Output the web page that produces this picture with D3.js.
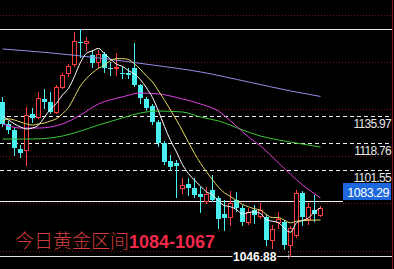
<!DOCTYPE html>
<html>
<head>
<meta charset="utf-8">
<script src="https://cdnjs.cloudflare.com/ajax/libs/d3/7.8.5/d3.min.js"></script>
<style>
body { margin: 0; background: #000; overflow: hidden; }
svg { display: block; }
</style>
</head>
<body>
<div class="graph"></div>
<script>
// daily candles
var opens  = [1144.6,1130.6,1126.7,1114.7,1114.0,1136.9,1135.0,1146.5,1144.6,1138.2,
              1154.1,1163.0,1168.7,1182.7,1182.1,1174.5,1170.0,1175.1,1166.2,1166.2,
              1163.0,1163.0,1166.2,1155.4,1146.5,1142.0,1131.8,1118.5,1107.0,1105.7,
              1089.8,1092.4,1089.8,1086.0,1081.6,1088.6,1083.5,1073.3,1071.4,1082.2,
              1077.1,1068.2,1075.8,1072.0,1071.4,1056.8,1068.2,1068.2,1053.6,1059.9,
              1086.7,1070.1,1075.8,1072.7];
var highs  = [1147.7,1132.5,1128.0,1117.2,1141.4,1140.7,1150.9,1152.8,1150.9,1155.4,
              1163.0,1168.7,1189.1,1191.0,1185.9,1177.7,1177.7,1176.4,1170.0,1175.7,
              1166.8,1166.2,1182.1,1156.0,1147.7,1143.3,1133.1,1119.7,1110.8,1107.7,
              1096.2,1096.2,1096.2,1090.5,1090.5,1098.1,1084.8,1082.2,1087.9,1087.3,
              1079.0,1077.1,1079.0,1080.3,1073.3,1066.3,1074.6,1069.5,1065.7,1088.6,
              1087.9,1080.3,1085.4,1078.4];
var lows   = [1129.3,1124.8,1110.8,1109.6,1104.5,1131.8,1134.4,1140.7,1137.6,1137.6,
              1153.5,1161.1,1167.5,1173.2,1177.7,1166.8,1166.8,1163.7,1161.7,1161.7,
              1159.8,1159.8,1154.7,1143.9,1139.5,1130.6,1116.6,1105.1,1101.3,1084.1,
              1086.7,1085.4,1084.1,1074.6,1080.3,1081.6,1064.4,1063.1,1066.3,1075.2,
              1066.3,1066.9,1067.6,1070.8,1053.6,1051.7,1064.4,1051.0,1046.88,1058.7,
              1066.3,1066.9,1068.8,1072.0];
var closes = [1130.6,1126.7,1115.3,1112.1,1136.3,1134.4,1147.1,1144.6,1138.2,1154.1,
              1161.7,1167.5,1183.4,1182.1,1183.4,1169.4,1175.1,1166.2,1165.6,1166.8,
              1162.4,1161.7,1155.4,1147.1,1140.7,1131.8,1118.5,1106.4,1103.2,1103.8,
              1091.7,1089.8,1085.4,1084.1,1086.0,1082.2,1070.1,1070.8,1080.3,1077.1,
              1068.2,1074.6,1072.7,1075.8,1056.8,1063.8,1070.1,1053.6,1064.4,1086.7,
              1071.4,1077.7,1073.3,1077.1];

// moving averages
var ma5  = [1135.7,1133.1,1130.6,1128.7,1127.4,1128.0,1129.9,1134.9,1140.1,1143.7,
            1149.1,1153.2,1161.0,1169.8,1175.6,1177.1,1178.7,1175.2,1171.9,1168.6,
            1167.2,1164.5,1162.4,1158.7,1153.5,1147.4,1138.7,1128.9,1120.1,1112.8,
            1104.7,1099.0,1094.8,1091.0,1087.4,1085.5,1081.6,1078.6,1077.9,1076.1,
            1073.3,1074.2,1074.6,1073.7,1069.6,1068.7,1067.8,1064.0,1061.7,1067.7,
            1069.2,1070.8,1074.7,1077.2];
var ma10 = [1132.5,1133.8,1133.1,1131.8,1130.6,1129.9,1130.6,1131.2,1132.5,1133.9,
            1137.1,1141.1,1147.9,1154.9,1159.6,1163.2,1166.0,1168.1,1170.9,1172.1,
            1172.2,1171.6,1168.8,1165.3,1161.1,1157.3,1151.6,1145.7,1139.4,1133.1,
            1126.1,1118.9,1111.9,1105.6,1100.1,1095.1,1090.3,1086.7,1084.4,1081.8,
            1079.4,1077.9,1076.6,1075.8,1072.9,1071.0,1071.0,1069.3,1067.7,1068.7,
            1069.0,1069.3,1069.4,1069.5];
var ma20At = [0, 3, 6, 10, 13, 16, 20, 23, 26, 30, 33, 36, 38, 41, 43, 46, 50, 53];
var ma20   = [1130.6,1128.0,1128.0,1130.6,1136.3,1143.3,1147.8,1150.3,1149.7,1146.5,
              1143.3,1138.8,1132.5,1122.3,1116.6,1105.8,1091.8,1083.5];
var ma60At = [0, 5, 10, 13, 16, 20, 23, 26, 30, 33, 36, 40, 43, 46, 50, 53];
var ma60   = [1121.0,1121.0,1122.9,1126.1,1129.9,1134.4,1137.6,1138.8,1138.2,1135.0,
              1132.5,1126.8,1122.9,1120.4,1117.8,1115.9];
var ma120At = [0, 8, 16, 25, 33, 41, 48, 53];
var ma120   = [1178.3,1175.8,1172.6,1168.1,1163.7,1157.3,1151.6,1148.1];

var levels = [1135.97, 1118.76, 1101.55];
var gridPrices = [1200, 1170, 1140, 1110, 1080, 1050];
var highPrice = 1191.0, lowPrice = 1046.88, lastPrice = 1081.8;
var lastLabel = "1083.29", lowLabel = "1046.88";
var titleCn = "今日黄金区间", titleNum = "1084-1067";

var width = 394, height = 269, rightEdge = 392;

var x = d3.scaleLinear().domain([0, 53]).range([2, 320]);
var y = d3.scaleLinear().domain([lowPrice, 1135.97]).range([255.5, 115.5]);

var svg = d3.select('.graph').append('svg')
    .attr('width', width)
    .attr('height', height)
    .style('background', '#000');

function py(v) { return Math.round(y(v)) + 0.5; }

// red dotted grid
svg.append('g').selectAll('line').data(gridPrices).join('line')
    .attr('x1', 0).attr('x2', rightEdge)
    .attr('y1', py).attr('y2', py)
    .attr('stroke', '#7a1414')
    .attr('stroke-dasharray', '1,2');

svg.append('line')
    .attr('x1', rightEdge + 0.5).attr('x2', rightEdge + 0.5)
    .attr('y1', 0).attr('y2', height)
    .attr('stroke', '#8a1c1c');

// white dashed levels
svg.append('g').selectAll('line').data(levels).join('line')
    .attr('x1', 0).attr('x2', rightEdge - 1)
    .attr('y1', py).attr('y2', py)
    .attr('stroke', '#f0f0f0')
    .attr('stroke-dasharray', '4,3');

// solid high / low / last lines
svg.append('line').attr('x1', 0).attr('x2', rightEdge)
    .attr('y1', py(highPrice)).attr('y2', py(highPrice))
    .attr('stroke', '#e6e6e6');
svg.append('line').attr('x1', 0).attr('x2', rightEdge)
    .attr('y1', py(lowPrice)).attr('y2', py(lowPrice))
    .attr('stroke', '#e6e6e6');
svg.append('line').attr('x1', 0).attr('x2', 343)
    .attr('y1', py(lastPrice)).attr('y2', py(lastPrice))
    .attr('stroke', '#f4f4f4');

// candles
var candles = d3.range(opens.length).map(function (i) {
    return { i: i, o: opens[i], h: highs[i], l: lows[i], c: closes[i] };
});
var cg = svg.append('g');
candles.forEach(function (d) {
    var cx = Math.round(x(d.i)),
        up = d.c >= d.o,
        col = up ? '#ff3c3c' : '#4af0f0',
        top = Math.round(y(Math.max(d.o, d.c))),
        bot = Math.round(y(Math.min(d.o, d.c)));
    cg.append('line')
        .attr('x1', cx + 0.5).attr('x2', cx + 0.5)
        .attr('y1', Math.round(y(d.h))).attr('y2', Math.round(y(d.l)) + 1)
        .attr('stroke', col);
    if (up) {
        cg.append('rect')
            .attr('x', cx - 1.5).attr('y', top + 0.5)
            .attr('width', 4).attr('height', Math.max(bot - top, 1))
            .attr('fill', '#000').attr('stroke', col);
    } else {
        cg.append('rect')
            .attr('x', cx - 2).attr('y', top)
            .attr('width', 5).attr('height', Math.max(bot - top, 1))
            .attr('fill', col);
    }
});

// moving average lines
var maLine = d3.line()
    .curve(d3.curveMonotoneX)
    .x(function (d) { return x(d[0]) + 0.5; })
    .y(function (d) { return y(d[1]); });

var maGroups = [
    { idx: d3.range(ma120.length).map(function (k) { return ma120At[k]; }), vals: ma120, color: '#8f8fe8' },
    { idx: ma60At, vals: ma60, color: '#3cc83c' },
    { idx: ma20At, vals: ma20, color: '#e040e0' },
    { idx: d3.range(ma10.length), vals: ma10, color: '#e8dc64' },
    { idx: d3.range(ma5.length), vals: ma5, color: '#ffffff' }
];
maGroups.forEach(function (g) {
    svg.append('path')
        .datum(g.vals.map(function (v, k) { return [g.idx[k], v]; }))
        .attr('d', maLine)
        .attr('fill', 'none')
        .attr('stroke', g.color)
        .attr('stroke-width', 1);
});

// level labels on the right
svg.append('g').selectAll('text').data(levels).join('text')
    .attr('x', 391)
    .attr('y', function (d) { return py(d) + 11; })
    .attr('text-anchor', 'end')
    .attr('font-family', 'Liberation Sans, Arial, sans-serif')
    .attr('font-size', 12)
    .attr('letter-spacing', -0.7)
    .attr('fill', '#e8e8e8')
    .text(function (d) { return d.toFixed(2); });

// last price box
var boxBottom = Math.round(y(lastPrice));
svg.append('rect')
    .attr('x', 343).attr('y', boxBottom - 18)
    .attr('width', 48).attr('height', 17)
    .attr('fill', '#1d68dc');
svg.append('text')
    .attr('x', 389).attr('y', boxBottom - 4)
    .attr('text-anchor', 'end')
    .attr('font-family', 'Liberation Sans, Arial, sans-serif')
    .attr('font-size', 12.5)
    .attr('letter-spacing', -0.5)
    .attr('fill', '#ffffff')
    .text(lastLabel);

// low marker and label
var lowIdx = lows.indexOf(lowPrice);
svg.append('line')
    .attr('x1', Math.round(x(lowIdx)) - 1.5).attr('x2', Math.round(x(lowIdx)) - 1.5)
    .attr('y1', py(lowPrice) - 5).attr('y2', py(lowPrice) + 3)
    .attr('stroke', '#e6e6e6')
    .attr('stroke-dasharray', '1,2');
svg.append('text')
    .attr('x', 233).attr('y', py(lowPrice) + 4)
    .attr('font-family', 'Liberation Sans, Arial, sans-serif')
    .attr('font-size', 12)
    .attr('font-weight', 'bold')
    .attr('fill', '#ffffff')
    .attr('stroke', '#000')
    .attr('stroke-width', 3)
    .attr('paint-order', 'stroke')
    .text(lowLabel);

// title text
var title = svg.append('text')
    .attr('x', 15).attr('y', 248);
title.append('tspan')
    .attr('font-family', 'Noto Sans CJK SC, sans-serif')
    .attr('font-size', 19)
    .attr('font-weight', 300)
    .attr('fill', '#d23c3c')
    .text(titleCn);
title.append('tspan')
    .attr('font-family', 'Liberation Sans, Arial, sans-serif')
    .attr('font-size', 18)
    .attr('font-weight', 'bold')
    .attr('fill', '#f0284a')
    .text(titleNum);
</script>
</body>
</html>
